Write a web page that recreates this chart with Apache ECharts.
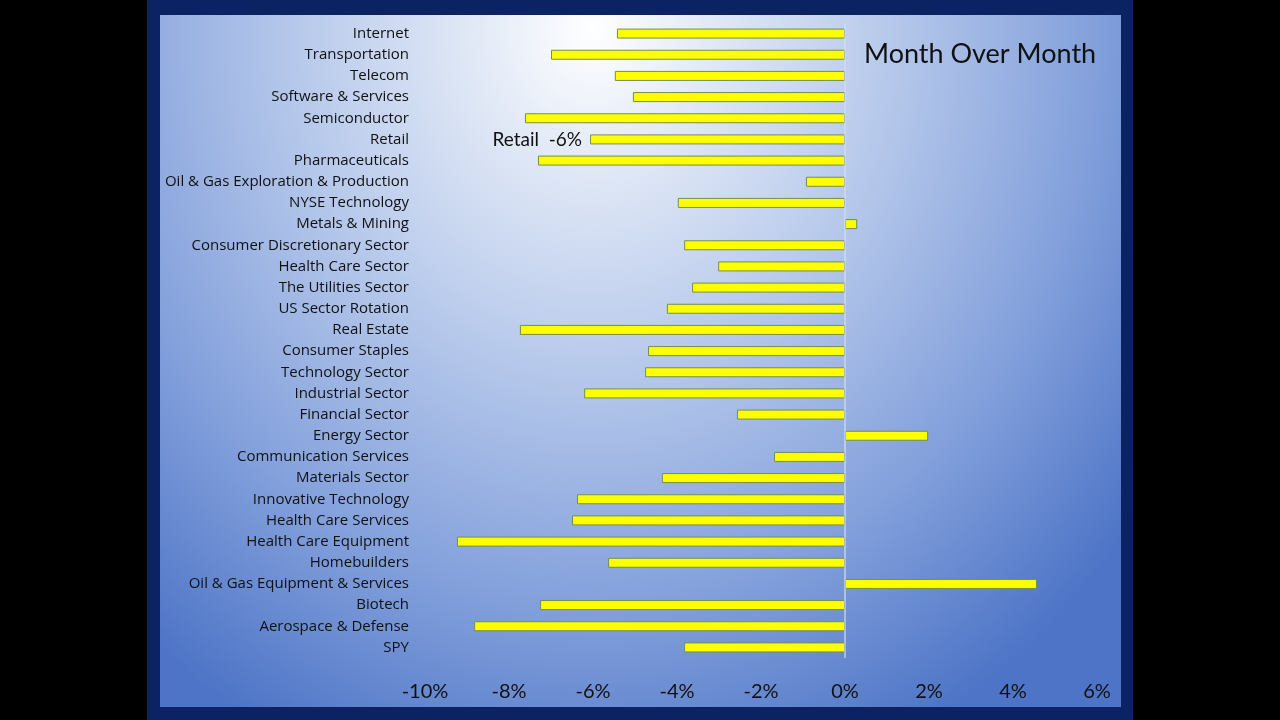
<!DOCTYPE html>
<html>
<head>
<meta charset="utf-8">
<script src="https://cdn.jsdelivr.net/npm/echarts@6/dist/echarts.min.js"></script>
<style>
  html, body { margin: 0; padding: 0; background: #000; }
  #frame {
    position: absolute; left: 147px; top: 0; width: 986px; height: 720px;
    background: #0c2363;
  }
  #panel {
    position: absolute; left: 160px; top: 15px; width: 961px; height: 692px;
    background: radial-gradient(ellipse 72% 115% at 45% 2%, #ffffff 0%, #e0e8f6 18%, #b3c6ea 45%, #84a1dc 72%, #4d74c6 100%);
  }
  #chart { position: absolute; left: 0; top: 0; width: 1280px; height: 720px; }
</style>
</head>
<body>
<div id="frame"></div>
<div id="panel"></div>
<div id="chart"></div>
<script>
// top to bottom, as shown
const categories = [
  'Internet', 'Transportation', 'Telecom', 'Software & Services', 'Semiconductor',
  'Retail', 'Pharmaceuticals', 'Oil & Gas Exploration & Production', 'NYSE Technology',
  'Metals & Mining', 'Consumer Discretionary Sector', 'Health Care Sector',
  'The Utilities Sector', 'US Sector Rotation', 'Real Estate', 'Consumer Staples',
  'Technology Sector', 'Industrial Sector', 'Financial Sector', 'Energy Sector',
  'Communication Services', 'Materials Sector', 'Innovative Technology',
  'Health Care Services', 'Health Care Equipment', 'Homebuilders',
  'Oil & Gas Equipment & Services', 'Biotech', 'Aerospace & Defense', 'SPY'
];

// month over month change, %
const momChange = [
  -5.43, -7.0, -5.48, -5.05, -7.62,
  -6.07, -7.31, -0.93, -3.98,
  0.29, -3.83, -3.02,
  -3.64, -4.24, -7.74, -4.69,
  -4.76, -6.21, -2.57, 1.98,
  -1.69, -4.36, -6.38,
  -6.5, -9.24, -5.64,
  4.57, -7.26, -8.83, -3.83
];

const xTicks = [-10, -8, -6, -4, -2, 0, 2, 4, 6];
const calloutIndex = 5; // Retail
const calloutText = 'Retail  -6%';

const chart = echarts.init(document.getElementById('chart'));

const option = {
  backgroundColor: 'transparent',
  textStyle: { fontFamily: 'Lato, sans-serif' },
  title: {
    text: 'Month Over Month',
    left: 859,
    top: 36,
    textStyle: { fontSize: 27, fontWeight: 'normal', color: '#111', fontFamily: 'Lato, sans-serif' }
  },
  grid: { left: 425, right: 183, top: 23, bottom: 62 },
  xAxis: {
    type: 'value',
    min: xTicks[0],
    max: xTicks[xTicks.length - 1],
    interval: 2,
    axisLine: { show: false },
    axisTick: { show: false },
    splitLine: { show: false },
    axisLabel: {
      margin: 24,
      fontSize: 20,
      color: '#111',
      formatter: (v) => v + '%'
    }
  },
  yAxis: {
    type: 'category',
    data: categories,
    inverse: true,
    axisLine: { show: false },
    axisTick: { show: false },
    axisLabel: { margin: 16, fontSize: 15, color: '#111', fontFamily: '"Open Sans", sans-serif' }
  },
  series: [{
    type: 'bar',
    barWidth: 10,
    data: momChange.map((v, i) => i === calloutIndex ? {
      value: v,
      label: {
        show: true,
        position: 'left',
        distance: 8,
        formatter: calloutText,
        fontSize: 19,
        color: '#111'
      }
    } : v),
    itemStyle: { color: '#ffff00', borderColor: '#6f9050', borderWidth: 1 },
    markLine: {
      silent: true,
      symbol: 'none',
      label: { show: false },
      lineStyle: { color: '#d3def2', width: 2, type: 'solid', opacity: 0.6 },
      data: [{ xAxis: 0 }]
    }
  }]
};

chart.setOption(option);
</script>
</body>
</html>
